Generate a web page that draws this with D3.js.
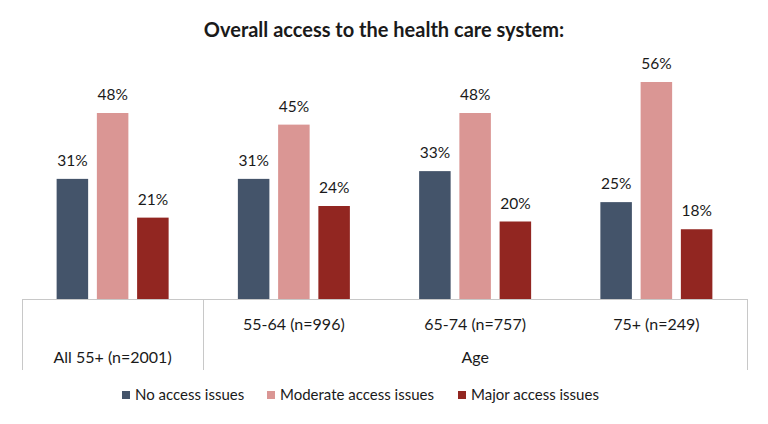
<!DOCTYPE html>
<meta charset="utf-8">
<style>
body { margin: 0; background: #fff; }
svg text { font-family: Lato, "Open Sans", sans-serif; fill: #1a1a1a; }
.title { font-weight: bold; font-size: 20px; }
.val { font-size: 15.5px; }
.cat { font-size: 16px; }
.legend text { font-size: 15px; }
.frame line { stroke: #c8c8c8; stroke-width: 1; }
</style>
<svg width="768" height="424"></svg>
<script src="https://cdn.jsdelivr.net/npm/d3@7"></script>
<script>

var categories = ["All 55+ (n=2001)", "55-64 (n=996)", "65-74 (n=757)", "75+ (n=249)"];
var seriesNames = ["No access issues", "Moderate access issues", "Major access issues"];
var noAccess = [31, 31, 33, 25];
var moderate = [48, 45, 48, 56];
var major = [21, 24, 20, 18];
var colors = ["#44546A", "#DA9694", "#922621"];

var svg = d3.select("svg"),
    width = +svg.attr("width"),
    height = +svg.attr("height");

var left = 22, right = 747, baseY = 299;

var x = d3.scaleBand()
    .domain(categories)
    .range([left, right]);

var xs = d3.scaleBand()
    .domain(seriesNames)
    .range([0, 112])
    .paddingInner(0.217)
    .paddingOuter(0);

var y = d3.scaleLinear()
    .domain([0, 56])
    .range([baseY, baseY - 217]);

var series = [noAccess, moderate, major];

// title
svg.append("text")
    .attr("class", "title")
    .attr("x", width / 2)
    .attr("y", 37)
    .attr("text-anchor", "middle")
    .text("Overall access to the health care system:");

// bars
var groups = svg.append("g")
  .selectAll("g")
  .data(categories)
  .enter().append("g")
    .attr("transform", function(d) { return "translate(" + (x(d) + x.bandwidth() / 2 - 56) + ",0)"; });

function rows(d, i) {
  return series.map(function(s, j) { return {name: seriesNames[j], v: s[i], j: j}; });
}

groups.selectAll("rect")
    .data(rows)
    .enter().append("rect")
    .attr("x", function(d) { return xs(d.name); })
    .attr("y", function(d) { return y(d.v); })
    .attr("width", xs.bandwidth())
    .attr("height", function(d) { return baseY - y(d.v); })
    .attr("fill", function(d) { return colors[d.j]; });

groups.selectAll("text")
    .data(rows)
    .enter().append("text")
    .attr("class", "val")
    .attr("x", function(d) { return xs(d.name) + xs.bandwidth() / 2; })
    .attr("y", function(d) { return y(d.v) - 13; })
    .attr("text-anchor", "middle")
    .text(function(d) { return d.v + "%"; });

// category axis frame
var frame = svg.append("g").attr("class", "frame");
frame.append("line").attr("x1", left).attr("x2", right).attr("y1", baseY + 0.5).attr("y2", baseY + 0.5);
[left, x(categories[1]), right].forEach(function(px) {
  frame.append("line")
      .attr("x1", Math.round(px) + 0.5).attr("x2", Math.round(px) + 0.5)
      .attr("y1", baseY).attr("y2", 370);
});

svg.append("g").selectAll("text")
    .data(categories)
    .enter().append("text")
    .attr("class", "cat")
    .attr("x", function(d) { return x(d) + x.bandwidth() / 2; })
    .attr("y", function(d, i) { return i === 0 ? 363 : 330; })
    .attr("text-anchor", "middle")
    .text(function(d) { return d; });

svg.append("text")
    .attr("class", "cat")
    .attr("x", (x(categories[1]) + right) / 2)
    .attr("y", 363)
    .attr("text-anchor", "middle")
    .text("Age");

// legend
var legendX = [122, 267, 458];
var legend = svg.append("g").attr("class", "legend")
  .selectAll("g")
  .data(seriesNames)
  .enter().append("g")
    .attr("transform", function(d, i) { return "translate(" + legendX[i] + ",395)"; });

legend.append("rect")
    .attr("x", 0).attr("y", -4)
    .attr("width", 8).attr("height", 8)
    .attr("fill", function(d, i) { return colors[i]; });

legend.append("text")
    .attr("x", 13)
    .attr("y", 5)
    .text(function(d) { return d; });

</script>
